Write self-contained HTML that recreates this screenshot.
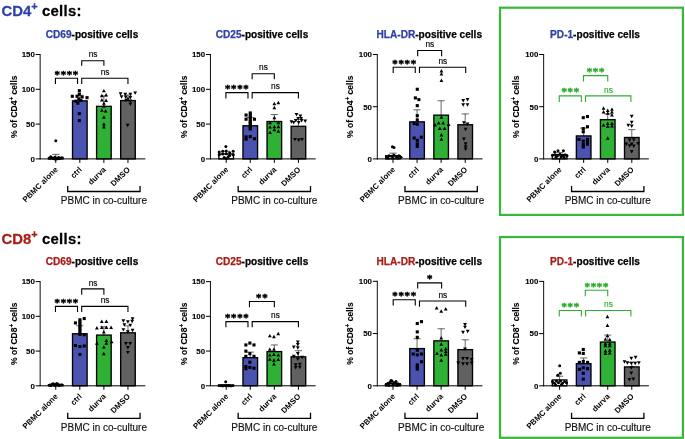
<!DOCTYPE html>
<html lang="en"><head><meta charset="utf-8"><title>T cell activation markers</title>
<style>html,body{margin:0;padding:0;background:#fff}body{width:685px;height:439px;overflow:hidden}svg{display:block}text{font-family:"Liberation Sans", sans-serif}text.b{stroke-width:0.25px}text.st{font-family:"DejaVu Sans","Liberation Sans",sans-serif}</style>
</head><body>
<svg width="685" height="439" viewBox="0 0 685 439" font-family='"Liberation Sans", sans-serif'>
<rect width="685" height="439" fill="#fff"/>
<rect x="500" y="7.7" width="182.9" height="207.2" fill="none" stroke="#38b838" stroke-width="2.2"/>
<rect x="500" y="237" width="182.9" height="200.8" fill="none" stroke="#38b838" stroke-width="2.2"/>
<text transform="translate(1.4 15.7) scale(0.96 1)" font-size="15.5" font-weight="bold" class="b"><tspan fill="#2f40a6" stroke="#2f40a6">CD4<tspan dy="-6.2" font-size="11.5">+</tspan></tspan><tspan dy="6.2" stroke="#000" letter-spacing="0.28"> cells:</tspan></text>
<text transform="translate(1.4 243.8) scale(0.96 1)" font-size="15.5" font-weight="bold" class="b"><tspan fill="#a81c18" stroke="#a81c18">CD8<tspan dy="-6.2" font-size="11.5">+</tspan></tspan><tspan dy="6.2" stroke="#000" letter-spacing="0.28"> cells:</tspan></text>
<text x="92" y="37.7" font-size="10.1" font-weight="bold" text-anchor="middle" class="b" stroke="#000"><tspan fill="#2f40a6" stroke="#2f40a6">CD69</tspan>-positive cells</text>
<rect x="48.45" y="157.51" width="14.6" height="1.39" fill="#fff" stroke="#000" stroke-width="1.35"/>
<line x1="55.75" y1="157.51" x2="55.75" y2="154.38" stroke="#000" stroke-width="0.6"/>
<line x1="52.15" y1="154.38" x2="59.35" y2="154.38" stroke="#000" stroke-width="0.6"/>
<rect x="72.52" y="100.85" width="14.6" height="58.05" fill="#4b53b0" stroke="#000" stroke-width="1.35"/>
<line x1="79.82" y1="100.85" x2="79.82" y2="95.29" stroke="#000" stroke-width="0.6"/>
<line x1="76.22" y1="95.29" x2="83.42" y2="95.29" stroke="#000" stroke-width="0.6"/>
<rect x="96.59" y="106.35" width="14.6" height="52.55" fill="#2eb135" stroke="#000" stroke-width="1.35"/>
<line x1="103.89" y1="106.35" x2="103.89" y2="95.91" stroke="#000" stroke-width="0.6"/>
<line x1="100.29" y1="95.91" x2="107.49" y2="95.91" stroke="#000" stroke-width="0.6"/>
<rect x="120.66" y="100.58" width="14.6" height="58.32" fill="#616161" stroke="#000" stroke-width="1.35"/>
<line x1="127.96" y1="100.58" x2="127.96" y2="95.01" stroke="#000" stroke-width="0.6"/>
<line x1="124.36" y1="95.01" x2="131.56" y2="95.01" stroke="#000" stroke-width="0.6"/>
<g fill="#000">
<circle cx="55.75" cy="140.8" r="1.5"/>
<circle cx="50.75" cy="156.81" r="1.5"/>
<circle cx="54.75" cy="157.16" r="1.5"/>
<circle cx="58.75" cy="157.51" r="1.5"/>
<circle cx="61.75" cy="157.86" r="1.5"/>
<circle cx="49.75" cy="158.2" r="1.5"/>
<circle cx="52.75" cy="158.2" r="1.5"/>
<circle cx="56.75" cy="158.34" r="1.5"/>
<circle cx="59.75" cy="158.55" r="1.5"/>
<circle cx="53.75" cy="158.55" r="1.5"/>
<circle cx="57.75" cy="158.69" r="1.5"/>
<circle cx="55.25" cy="158.9" r="1.5"/>
<circle cx="55.75" cy="158.9" r="1.5"/>
<rect x="77.77" y="89.14" width="3.1" height="3.1"/>
<rect x="77.77" y="92.62" width="3.1" height="3.1"/>
<rect x="70.77" y="94.71" width="3.1" height="3.1"/>
<rect x="75.47" y="94.71" width="3.1" height="3.1"/>
<rect x="80.57" y="95.41" width="3.1" height="3.1"/>
<rect x="85.47" y="96.1" width="3.1" height="3.1"/>
<rect x="77.27" y="97.49" width="3.1" height="3.1"/>
<rect x="79.27" y="98.89" width="3.1" height="3.1"/>
<rect x="74.27" y="99.58" width="3.1" height="3.1"/>
<rect x="76.27" y="101.67" width="3.1" height="3.1"/>
<rect x="77.77" y="112.11" width="3.1" height="3.1"/>
<rect x="77.77" y="119.07" width="3.1" height="3.1"/>
<path d="M101.99 92.34L105.79 92.34L103.89 88.88Z"/>
<path d="M104.19 96.52L107.99 96.52L106.09 93.05Z"/>
<path d="M99.99 97.21L103.79 97.21L101.89 93.75Z"/>
<path d="M99.99 101.39L103.79 101.39L101.89 97.93Z"/>
<path d="M104.19 102.09L107.99 102.09L106.09 98.62Z"/>
<path d="M101.99 104.87L105.79 104.87L103.89 101.41Z"/>
<path d="M99.99 111.83L103.79 111.83L101.89 108.37Z"/>
<path d="M103.69 112.53L107.49 112.53L105.59 109.06Z"/>
<path d="M101.99 107.65L105.79 107.65L103.89 104.19Z"/>
<path d="M101.99 118.79L105.79 118.79L103.89 115.33Z"/>
<path d="M101.99 125.75L105.79 125.75L103.89 122.28Z"/>
<path d="M101.99 128.53L105.79 128.53L103.89 125.07Z"/>
<path d="M133.26 91.41L137.06 91.41L135.16 94.87Z"/>
<path d="M118.66 92.17L122.46 92.17L120.56 95.64Z"/>
<path d="M123.36 92.73L127.16 92.73L125.26 96.2Z"/>
<path d="M128.46 92.73L132.26 92.73L130.36 96.2Z"/>
<path d="M119.66 95.31L123.46 95.31L121.56 98.77Z"/>
<path d="M123.76 95.58L127.56 95.58L125.66 99.05Z"/>
<path d="M128.46 96L132.26 96L130.36 99.47Z"/>
<path d="M124.26 98.79L128.06 98.79L126.16 102.25Z"/>
<path d="M128.46 99.48L132.26 99.48L130.36 102.95Z"/>
<path d="M126.06 97.39L129.86 97.39L127.96 100.86Z"/>
<path d="M128.46 102.61L132.26 102.61L130.36 106.08Z"/>
<path d="M125.76 123.84L129.56 123.84L127.66 127.31Z"/>
</g>
<line x1="40.15" y1="54" x2="40.15" y2="159.4" stroke="#000" stroke-width="0.95"/>
<line x1="39.65" y1="158.9" x2="145.35" y2="158.9" stroke="#000" stroke-width="1"/>
<line x1="35.65" y1="158.9" x2="40.15" y2="158.9" stroke="#000" stroke-width="1"/>
<text x="34.85" y="161.75" font-size="7.9" font-weight="bold" text-anchor="end" fill="#000" stroke="#000" stroke-width="0.12">0</text>
<line x1="35.65" y1="124.1" x2="40.15" y2="124.1" stroke="#000" stroke-width="1"/>
<text x="34.85" y="126.95" font-size="7.9" font-weight="bold" text-anchor="end" fill="#000" stroke="#000" stroke-width="0.12">50</text>
<line x1="35.65" y1="89.3" x2="40.15" y2="89.3" stroke="#000" stroke-width="1"/>
<text x="34.85" y="92.15" font-size="7.9" font-weight="bold" text-anchor="end" fill="#000" stroke="#000" stroke-width="0.12">100</text>
<line x1="35.65" y1="54.5" x2="40.15" y2="54.5" stroke="#000" stroke-width="1"/>
<text x="34.85" y="57.35" font-size="7.9" font-weight="bold" text-anchor="end" fill="#000" stroke="#000" stroke-width="0.12">150</text>
<line x1="55.75" y1="158.9" x2="55.75" y2="162.9" stroke="#000" stroke-width="1"/>
<line x1="79.82" y1="158.9" x2="79.82" y2="162.9" stroke="#000" stroke-width="1"/>
<line x1="103.89" y1="158.9" x2="103.89" y2="162.9" stroke="#000" stroke-width="1"/>
<line x1="127.96" y1="158.9" x2="127.96" y2="162.9" stroke="#000" stroke-width="1"/>
<text x="16.65" y="106.7" font-size="8.5" font-weight="bold" text-anchor="middle" stroke="#000" stroke-width="0.1" transform="rotate(-90 16.65 106.7)">% of CD4<tspan dy="-3" font-size="6.5">+</tspan><tspan dy="3"> cells</tspan></text>
<text x="58.35" y="170.1" font-size="7.9" font-weight="bold" text-anchor="end" fill="#000" transform="rotate(-45 58.35 170.1)">PBMC alone</text>
<text x="82.42" y="170.1" font-size="7.9" font-weight="bold" text-anchor="end" fill="#000" transform="rotate(-45 82.42 170.1)">ctrl</text>
<text x="106.49" y="170.1" font-size="7.9" font-weight="bold" text-anchor="end" fill="#000" transform="rotate(-45 106.49 170.1)">durva</text>
<text x="130.56" y="170.1" font-size="7.9" font-weight="bold" text-anchor="end" fill="#000" transform="rotate(-45 130.56 170.1)">DMSO</text>
<path d="M67.72 185.9V191.5H140.06V185.9" stroke="#000" stroke-width="1.3" fill="none"/>
<text x="103.89" y="204.45" font-size="10" font-weight="normal" text-anchor="middle" fill="#111" stroke="#111" stroke-width="0.15">PBMC in co-culture</text>
<path d="M55.45 83.9V78.2H77.52V83.9" stroke="#000" stroke-width="1.1" fill="none"/>
<text x="67.03" y="77.75" font-size="9.4" font-weight="bold" text-anchor="middle" fill="#000" class="st" stroke="#000" stroke-width="0.6" letter-spacing="1.2">****</text>
<path d="M81.72 65.7V60.7H103.89V65.7" stroke="#000" stroke-width="1.1" fill="none"/>
<text x="93.01" y="57.3" font-size="8.3" font-weight="normal" text-anchor="middle" fill="#000" stroke="#000" stroke-width="0.15">ns</text>
<path d="M81.72 83.9V78.2H127.96V83.9" stroke="#000" stroke-width="1.1" fill="none"/>
<text x="105.04" y="74.8" font-size="8.3" font-weight="normal" text-anchor="middle" fill="#000" stroke="#000" stroke-width="0.15">ns</text>
<text x="262" y="37.7" font-size="10.1" font-weight="bold" text-anchor="middle" class="b" stroke="#000"><tspan fill="#2f40a6" stroke="#2f40a6">CD25</tspan>-positive cells</text>
<rect x="218.9" y="154.03" width="14.6" height="4.87" fill="#fff" stroke="#000" stroke-width="1.35"/>
<line x1="226.2" y1="154.03" x2="226.2" y2="151.24" stroke="#000" stroke-width="0.6"/>
<line x1="222.6" y1="151.24" x2="229.8" y2="151.24" stroke="#000" stroke-width="0.6"/>
<rect x="242.97" y="125.77" width="14.6" height="33.13" fill="#4b53b0" stroke="#000" stroke-width="1.35"/>
<line x1="250.27" y1="125.77" x2="250.27" y2="117.42" stroke="#000" stroke-width="0.6"/>
<line x1="246.67" y1="117.42" x2="253.87" y2="117.42" stroke="#000" stroke-width="0.6"/>
<rect x="267.04" y="121.52" width="14.6" height="37.38" fill="#2eb135" stroke="#000" stroke-width="1.35"/>
<line x1="274.34" y1="121.52" x2="274.34" y2="114.56" stroke="#000" stroke-width="0.6"/>
<line x1="270.74" y1="114.56" x2="277.94" y2="114.56" stroke="#000" stroke-width="0.6"/>
<rect x="291.11" y="126.33" width="14.6" height="32.57" fill="#616161" stroke="#000" stroke-width="1.35"/>
<line x1="298.41" y1="126.33" x2="298.41" y2="119.37" stroke="#000" stroke-width="0.6"/>
<line x1="294.81" y1="119.37" x2="302.01" y2="119.37" stroke="#000" stroke-width="0.6"/>
<g fill="#000">
<circle cx="225.9" cy="146.44" r="1.5"/>
<circle cx="219.2" cy="151.94" r="1.5"/>
<circle cx="222.7" cy="151.24" r="1.5"/>
<circle cx="226.2" cy="150.9" r="1.5"/>
<circle cx="229.7" cy="152.64" r="1.5"/>
<circle cx="233.2" cy="151.24" r="1.5"/>
<circle cx="219.2" cy="154.72" r="1.5"/>
<circle cx="222.7" cy="154.03" r="1.5"/>
<circle cx="226.2" cy="153.68" r="1.5"/>
<circle cx="229.7" cy="155.42" r="1.5"/>
<circle cx="233.2" cy="154.72" r="1.5"/>
<circle cx="224.2" cy="157.51" r="1.5"/>
<circle cx="226.2" cy="158.55" r="1.5"/>
<circle cx="228.2" cy="156.81" r="1.5"/>
<rect x="248.72" y="111.41" width="3.1" height="3.1"/>
<rect x="244.52" y="113.5" width="3.1" height="3.1"/>
<rect x="248.72" y="115.59" width="3.1" height="3.1"/>
<rect x="244.52" y="117.68" width="3.1" height="3.1"/>
<rect x="252.92" y="117.68" width="3.1" height="3.1"/>
<rect x="248.72" y="119.77" width="3.1" height="3.1"/>
<rect x="248.72" y="122.55" width="3.1" height="3.1"/>
<rect x="248.72" y="126.73" width="3.1" height="3.1"/>
<rect x="248.72" y="135.08" width="3.1" height="3.1"/>
<rect x="244.52" y="135.36" width="3.1" height="3.1"/>
<rect x="252.92" y="137.17" width="3.1" height="3.1"/>
<rect x="244.52" y="137.58" width="3.1" height="3.1"/>
<rect x="248.72" y="113.5" width="3.1" height="3.1"/>
<rect x="248.72" y="117.68" width="3.1" height="3.1"/>
<rect x="248.72" y="121.16" width="3.1" height="3.1"/>
<rect x="248.72" y="124.64" width="3.1" height="3.1"/>
<rect x="248.72" y="127.42" width="3.1" height="3.1"/>
<path d="M276.44 104.17L280.24 104.17L278.34 100.71Z"/>
<path d="M272.44 105.15L276.24 105.15L274.34 101.68Z"/>
<path d="M272.44 109.25L276.24 109.25L274.34 105.79Z"/>
<path d="M272.44 119.21L276.24 119.21L274.34 115.74Z"/>
<path d="M268.14 124.22L271.94 124.22L270.04 120.75Z"/>
<path d="M276.44 124.22L280.24 124.22L278.34 120.75Z"/>
<path d="M272.44 128.33L276.24 128.33L274.34 124.86Z"/>
<path d="M276.44 128.33L280.24 128.33L278.34 124.86Z"/>
<path d="M268.14 128.6L271.94 128.6L270.04 125.14Z"/>
<path d="M272.44 131.25L276.24 131.25L274.34 127.78Z"/>
<path d="M276.44 132.71L280.24 132.71L278.34 129.25Z"/>
<path d="M268.14 133.89L271.94 133.89L270.04 130.43Z"/>
<path d="M294.61 112.98L298.41 112.98L296.51 116.45Z"/>
<path d="M298.51 114.45L302.31 114.45L300.41 117.91Z"/>
<path d="M296.31 116.88L300.11 116.88L298.21 120.35Z"/>
<path d="M299.31 116.88L303.11 116.88L301.21 120.35Z"/>
<path d="M293.91 119.11L297.71 119.11L295.81 122.57Z"/>
<path d="M299.71 119.11L303.51 119.11L301.61 122.57Z"/>
<path d="M289.51 120.29L293.31 120.29L291.41 123.76Z"/>
<path d="M291.71 120.92L295.51 120.92L293.61 124.38Z"/>
<path d="M296.81 120.92L300.61 120.92L298.71 124.38Z"/>
<path d="M303.31 119.6L307.11 119.6L305.21 123.06Z"/>
<path d="M293.11 137.9L296.91 137.9L295.01 141.37Z"/>
<path d="M296.81 138.46L300.61 138.46L298.71 141.92Z"/>
<path d="M300.11 137.9L303.91 137.9L302.01 141.37Z"/>
</g>
<line x1="210.45" y1="54" x2="210.45" y2="159.4" stroke="#000" stroke-width="0.95"/>
<line x1="209.95" y1="158.9" x2="315.65" y2="158.9" stroke="#000" stroke-width="1"/>
<line x1="205.95" y1="158.9" x2="210.45" y2="158.9" stroke="#000" stroke-width="1"/>
<text x="205.15" y="161.75" font-size="7.9" font-weight="bold" text-anchor="end" fill="#000" stroke="#000" stroke-width="0.12">0</text>
<line x1="205.95" y1="124.1" x2="210.45" y2="124.1" stroke="#000" stroke-width="1"/>
<text x="205.15" y="126.95" font-size="7.9" font-weight="bold" text-anchor="end" fill="#000" stroke="#000" stroke-width="0.12">50</text>
<line x1="205.95" y1="89.3" x2="210.45" y2="89.3" stroke="#000" stroke-width="1"/>
<text x="205.15" y="92.15" font-size="7.9" font-weight="bold" text-anchor="end" fill="#000" stroke="#000" stroke-width="0.12">100</text>
<line x1="205.95" y1="54.5" x2="210.45" y2="54.5" stroke="#000" stroke-width="1"/>
<text x="205.15" y="57.35" font-size="7.9" font-weight="bold" text-anchor="end" fill="#000" stroke="#000" stroke-width="0.12">150</text>
<line x1="226.2" y1="158.9" x2="226.2" y2="162.9" stroke="#000" stroke-width="1"/>
<line x1="250.27" y1="158.9" x2="250.27" y2="162.9" stroke="#000" stroke-width="1"/>
<line x1="274.34" y1="158.9" x2="274.34" y2="162.9" stroke="#000" stroke-width="1"/>
<line x1="298.41" y1="158.9" x2="298.41" y2="162.9" stroke="#000" stroke-width="1"/>
<text x="186.95" y="106.7" font-size="8.5" font-weight="bold" text-anchor="middle" stroke="#000" stroke-width="0.1" transform="rotate(-90 186.95 106.7)">% of CD4<tspan dy="-3" font-size="6.5">+</tspan><tspan dy="3"> cells</tspan></text>
<text x="228.8" y="170.1" font-size="7.9" font-weight="bold" text-anchor="end" fill="#000" transform="rotate(-45 228.8 170.1)">PBMC alone</text>
<text x="252.87" y="170.1" font-size="7.9" font-weight="bold" text-anchor="end" fill="#000" transform="rotate(-45 252.87 170.1)">ctrl</text>
<text x="276.94" y="170.1" font-size="7.9" font-weight="bold" text-anchor="end" fill="#000" transform="rotate(-45 276.94 170.1)">durva</text>
<text x="301.01" y="170.1" font-size="7.9" font-weight="bold" text-anchor="end" fill="#000" transform="rotate(-45 301.01 170.1)">DMSO</text>
<path d="M238.17 185.9V191.5H310.51V185.9" stroke="#000" stroke-width="1.3" fill="none"/>
<text x="274.34" y="204.45" font-size="10" font-weight="normal" text-anchor="middle" fill="#111" stroke="#111" stroke-width="0.15">PBMC in co-culture</text>
<path d="M225.9 98.4V92.6H247.97V98.4" stroke="#000" stroke-width="1.1" fill="none"/>
<text x="237.49" y="92.15" font-size="9.4" font-weight="bold" text-anchor="middle" fill="#000" class="st" stroke="#000" stroke-width="0.6" letter-spacing="1.2">****</text>
<path d="M252.17 79.3V73.8H274.34V79.3" stroke="#000" stroke-width="1.1" fill="none"/>
<text x="263.45" y="70.4" font-size="8.3" font-weight="normal" text-anchor="middle" fill="#000" stroke="#000" stroke-width="0.15">ns</text>
<path d="M252.17 98.4V92.6H298.41V98.4" stroke="#000" stroke-width="1.1" fill="none"/>
<text x="275.49" y="89.2" font-size="8.3" font-weight="normal" text-anchor="middle" fill="#000" stroke="#000" stroke-width="0.15">ns</text>
<text x="429.3" y="37.7" font-size="10.1" font-weight="bold" text-anchor="middle" class="b" stroke="#000"><tspan fill="#2f40a6" stroke="#2f40a6">HLA-DR</tspan>-positive cells</text>
<rect x="385.7" y="155.77" width="14.6" height="3.13" fill="#fff" stroke="#000" stroke-width="1.35"/>
<line x1="393" y1="155.77" x2="393" y2="153.16" stroke="#000" stroke-width="0.6"/>
<line x1="389.4" y1="153.16" x2="396.6" y2="153.16" stroke="#000" stroke-width="0.6"/>
<rect x="409.77" y="121.84" width="14.6" height="37.06" fill="#4b53b0" stroke="#000" stroke-width="1.35"/>
<line x1="417.07" y1="121.84" x2="417.07" y2="109.83" stroke="#000" stroke-width="0.6"/>
<line x1="413.47" y1="109.83" x2="420.67" y2="109.83" stroke="#000" stroke-width="0.6"/>
<rect x="433.84" y="115.16" width="14.6" height="43.74" fill="#2eb135" stroke="#000" stroke-width="1.35"/>
<line x1="441.14" y1="115.16" x2="441.14" y2="100.75" stroke="#000" stroke-width="0.6"/>
<line x1="437.54" y1="100.75" x2="444.74" y2="100.75" stroke="#000" stroke-width="0.6"/>
<rect x="457.91" y="124.76" width="14.6" height="34.14" fill="#616161" stroke="#000" stroke-width="1.35"/>
<line x1="465.21" y1="124.76" x2="465.21" y2="113.9" stroke="#000" stroke-width="0.6"/>
<line x1="461.61" y1="113.9" x2="468.81" y2="113.9" stroke="#000" stroke-width="0.6"/>
<g fill="#000">
<circle cx="392.4" cy="146.79" r="1.5"/>
<circle cx="394" cy="147.42" r="1.5"/>
<circle cx="386.5" cy="156.81" r="1.5"/>
<circle cx="389" cy="155.77" r="1.5"/>
<circle cx="391.5" cy="156.29" r="1.5"/>
<circle cx="394" cy="155.25" r="1.5"/>
<circle cx="396.5" cy="156.81" r="1.5"/>
<circle cx="399" cy="155.77" r="1.5"/>
<circle cx="401" cy="157.33" r="1.5"/>
<circle cx="388" cy="158.06" r="1.5"/>
<circle cx="393" cy="157.86" r="1.5"/>
<circle cx="398" cy="158.06" r="1.5"/>
<rect x="415.72" y="87.72" width="3.1" height="3.1"/>
<rect x="413.82" y="96.38" width="3.1" height="3.1"/>
<rect x="417.32" y="98.05" width="3.1" height="3.1"/>
<rect x="415.72" y="104.11" width="3.1" height="3.1"/>
<rect x="415.72" y="114.13" width="3.1" height="3.1"/>
<rect x="415.72" y="118.41" width="3.1" height="3.1"/>
<rect x="412.62" y="121.96" width="3.1" height="3.1"/>
<rect x="415.72" y="122.69" width="3.1" height="3.1"/>
<rect x="412.62" y="136.47" width="3.1" height="3.1"/>
<rect x="419.72" y="135.63" width="3.1" height="3.1"/>
<rect x="415.72" y="138.77" width="3.1" height="3.1"/>
<rect x="415.72" y="142.32" width="3.1" height="3.1"/>
<rect x="415.72" y="144.82" width="3.1" height="3.1"/>
<path d="M439.54 72.54L443.34 72.54L441.44 69.08Z"/>
<path d="M439.54 75.57L443.34 75.57L441.44 72.1Z"/>
<path d="M439.54 82.04L443.34 82.04L441.44 78.58Z"/>
<path d="M439.54 118.79L443.34 118.79L441.44 115.33Z"/>
<path d="M436.74 124.43L440.54 124.43L438.64 120.96Z"/>
<path d="M441.24 124.43L445.04 124.43L443.14 120.96Z"/>
<path d="M433.14 126.41L436.94 126.41L435.04 122.95Z"/>
<path d="M446.64 125.89L450.44 125.89L448.54 122.42Z"/>
<path d="M437.94 129.96L441.74 129.96L439.84 126.5Z"/>
<path d="M442.64 129.96L446.44 129.96L444.54 126.5Z"/>
<path d="M439.54 136.43L443.34 136.43L441.44 132.97Z"/>
<path d="M439.54 140.71L443.34 140.71L441.44 137.25Z"/>
<path d="M461.31 99.1L465.11 99.1L463.21 102.56Z"/>
<path d="M465.61 97.95L469.41 97.95L467.51 101.42Z"/>
<path d="M461.31 103.17L465.11 103.17L463.21 106.64Z"/>
<path d="M465.61 103.17L469.41 103.17L467.51 106.64Z"/>
<path d="M462.01 121.13L465.81 121.13L463.91 124.59Z"/>
<path d="M465.61 122.59L469.41 122.59L467.51 126.05Z"/>
<path d="M463.71 127.81L467.51 127.81L465.61 131.27Z"/>
<path d="M462.01 137.41L465.81 137.41L463.91 140.88Z"/>
<path d="M463.71 142.22L467.51 142.22L465.61 145.68Z"/>
<path d="M463.71 145.14L467.51 145.14L465.61 148.6Z"/>
<path d="M463.71 147.54L467.51 147.54L465.61 151.01Z"/>
</g>
<line x1="377.3" y1="54" x2="377.3" y2="159.4" stroke="#000" stroke-width="0.95"/>
<line x1="376.8" y1="158.9" x2="482.5" y2="158.9" stroke="#000" stroke-width="1"/>
<line x1="372.8" y1="158.9" x2="377.3" y2="158.9" stroke="#000" stroke-width="1"/>
<text x="372" y="161.75" font-size="7.9" font-weight="bold" text-anchor="end" fill="#000" stroke="#000" stroke-width="0.12">0</text>
<line x1="372.8" y1="106.7" x2="377.3" y2="106.7" stroke="#000" stroke-width="1"/>
<text x="372" y="109.55" font-size="7.9" font-weight="bold" text-anchor="end" fill="#000" stroke="#000" stroke-width="0.12">50</text>
<line x1="372.8" y1="54.5" x2="377.3" y2="54.5" stroke="#000" stroke-width="1"/>
<text x="372" y="57.35" font-size="7.9" font-weight="bold" text-anchor="end" fill="#000" stroke="#000" stroke-width="0.12">100</text>
<line x1="393" y1="158.9" x2="393" y2="162.9" stroke="#000" stroke-width="1"/>
<line x1="417.07" y1="158.9" x2="417.07" y2="162.9" stroke="#000" stroke-width="1"/>
<line x1="441.14" y1="158.9" x2="441.14" y2="162.9" stroke="#000" stroke-width="1"/>
<line x1="465.21" y1="158.9" x2="465.21" y2="162.9" stroke="#000" stroke-width="1"/>
<text x="353.1" y="106.7" font-size="8.5" font-weight="bold" text-anchor="middle" stroke="#000" stroke-width="0.1" transform="rotate(-90 353.1 106.7)">% of CD4<tspan dy="-3" font-size="6.5">+</tspan><tspan dy="3"> cells</tspan></text>
<text x="395.6" y="170.1" font-size="7.9" font-weight="bold" text-anchor="end" fill="#000" transform="rotate(-45 395.6 170.1)">PBMC alone</text>
<text x="419.67" y="170.1" font-size="7.9" font-weight="bold" text-anchor="end" fill="#000" transform="rotate(-45 419.67 170.1)">ctrl</text>
<text x="443.74" y="170.1" font-size="7.9" font-weight="bold" text-anchor="end" fill="#000" transform="rotate(-45 443.74 170.1)">durva</text>
<text x="467.81" y="170.1" font-size="7.9" font-weight="bold" text-anchor="end" fill="#000" transform="rotate(-45 467.81 170.1)">DMSO</text>
<path d="M404.97 185.9V191.5H477.31V185.9" stroke="#000" stroke-width="1.3" fill="none"/>
<text x="441.14" y="204.45" font-size="10" font-weight="normal" text-anchor="middle" fill="#111" stroke="#111" stroke-width="0.15">PBMC in co-culture</text>
<path d="M393.2 73V67.2H415.27V73" stroke="#000" stroke-width="1.1" fill="none"/>
<text x="404.79" y="66.75" font-size="9.4" font-weight="bold" text-anchor="middle" fill="#000" class="st" stroke="#000" stroke-width="0.6" letter-spacing="1.2">****</text>
<path d="M417.67 56.3V50.5H441.64V56.3" stroke="#000" stroke-width="1.1" fill="none"/>
<text x="429.85" y="47.1" font-size="8.3" font-weight="normal" text-anchor="middle" fill="#000" stroke="#000" stroke-width="0.15">ns</text>
<path d="M419.47 73V67.2H465.71V73" stroke="#000" stroke-width="1.1" fill="none"/>
<text x="442.79" y="63.8" font-size="8.3" font-weight="normal" text-anchor="middle" fill="#000" stroke="#000" stroke-width="0.15">ns</text>
<text x="595" y="37.8" font-size="10.1" font-weight="bold" text-anchor="middle" class="b" stroke="#000"><tspan fill="#2f40a6" stroke="#2f40a6">PD-1</tspan>-positive cells</text>
<rect x="552.3" y="154.72" width="14.6" height="4.18" fill="#fff" stroke="#000" stroke-width="1.35"/>
<line x1="559.6" y1="154.72" x2="559.6" y2="152.64" stroke="#000" stroke-width="0.6"/>
<line x1="556" y1="152.64" x2="563.2" y2="152.64" stroke="#000" stroke-width="0.6"/>
<rect x="576.37" y="135.93" width="14.6" height="22.97" fill="#4b53b0" stroke="#000" stroke-width="1.35"/>
<line x1="583.67" y1="135.93" x2="583.67" y2="128.1" stroke="#000" stroke-width="0.6"/>
<line x1="580.07" y1="128.1" x2="587.27" y2="128.1" stroke="#000" stroke-width="0.6"/>
<rect x="600.44" y="119.65" width="14.6" height="39.25" fill="#2eb135" stroke="#000" stroke-width="1.35"/>
<line x1="607.74" y1="119.65" x2="607.74" y2="113.9" stroke="#000" stroke-width="0.6"/>
<line x1="604.14" y1="113.9" x2="611.34" y2="113.9" stroke="#000" stroke-width="0.6"/>
<rect x="624.51" y="137.5" width="14.6" height="21.4" fill="#616161" stroke="#000" stroke-width="1.35"/>
<line x1="631.81" y1="137.5" x2="631.81" y2="129.67" stroke="#000" stroke-width="0.6"/>
<line x1="628.21" y1="129.67" x2="635.41" y2="129.67" stroke="#000" stroke-width="0.6"/>
<g fill="#000">
<circle cx="558" cy="150.76" r="1.5"/>
<circle cx="563.4" cy="150.76" r="1.5"/>
<circle cx="554.6" cy="152.11" r="1.5"/>
<circle cx="552.5" cy="155.25" r="1.5"/>
<circle cx="555" cy="154.72" r="1.5"/>
<circle cx="557.5" cy="155.77" r="1.5"/>
<circle cx="560" cy="154.2" r="1.5"/>
<circle cx="562.5" cy="155.25" r="1.5"/>
<circle cx="565" cy="154.72" r="1.5"/>
<circle cx="567" cy="155.77" r="1.5"/>
<circle cx="556" cy="157.33" r="1.5"/>
<circle cx="561" cy="156.81" r="1.5"/>
<circle cx="564" cy="157.33" r="1.5"/>
<rect x="581.72" y="116.11" width="3.1" height="3.1"/>
<rect x="585.92" y="114.96" width="3.1" height="3.1"/>
<rect x="581.72" y="127.07" width="3.1" height="3.1"/>
<rect x="581.72" y="130.21" width="3.1" height="3.1"/>
<rect x="585.92" y="125.19" width="3.1" height="3.1"/>
<rect x="577.42" y="137.83" width="3.1" height="3.1"/>
<rect x="581.72" y="139.6" width="3.1" height="3.1"/>
<rect x="585.92" y="137.83" width="3.1" height="3.1"/>
<rect x="585.92" y="140.33" width="3.1" height="3.1"/>
<rect x="581.72" y="142.94" width="3.1" height="3.1"/>
<rect x="581.72" y="145.45" width="3.1" height="3.1"/>
<rect x="585.92" y="142.63" width="3.1" height="3.1"/>
<path d="M601.64 109.71L605.44 109.71L603.54 106.24Z"/>
<path d="M605.84 111.9L609.64 111.9L607.74 108.43Z"/>
<path d="M610.04 110.86L613.84 110.86L611.94 107.39Z"/>
<path d="M601.64 113.57L605.44 113.57L603.54 110.11Z"/>
<path d="M605.84 114.72L609.64 114.72L607.74 111.25Z"/>
<path d="M610.04 113.57L613.84 113.57L611.94 110.11Z"/>
<path d="M610.04 116.49L613.84 116.49L611.94 113.03Z"/>
<path d="M601.64 126.62L605.44 126.62L603.54 123.16Z"/>
<path d="M605.84 124.95L609.64 124.95L607.74 121.48Z"/>
<path d="M610.04 124.95L613.84 124.95L611.94 121.48Z"/>
<path d="M605.84 127.87L609.64 127.87L607.74 124.41Z"/>
<path d="M610.04 127.46L613.84 127.46L611.94 123.99Z"/>
<path d="M605.84 139.67L609.64 139.67L607.74 136.21Z"/>
<path d="M629.81 114.86L633.61 114.86L631.71 118.33Z"/>
<path d="M629.81 120.71L633.61 120.71L631.71 124.18Z"/>
<path d="M626.41 123.84L630.21 123.84L628.31 127.31Z"/>
<path d="M629.81 124.57L633.61 124.57L631.71 128.04Z"/>
<path d="M627.71 138.56L631.51 138.56L629.61 142.03Z"/>
<path d="M631.91 138.25L635.71 138.25L633.81 141.71Z"/>
<path d="M624.41 142.53L628.21 142.53L626.31 145.99Z"/>
<path d="M629.81 142.53L633.61 142.53L631.71 145.99Z"/>
<path d="M636.21 142.01L640.01 142.01L638.11 145.47Z"/>
<path d="M631.91 144.51L635.71 144.51L633.81 147.98Z"/>
<path d="M627.71 144.2L631.51 144.2L629.61 147.66Z"/>
<path d="M629.81 149.94L633.61 149.94L631.71 153.41Z"/>
</g>
<line x1="543.65" y1="54" x2="543.65" y2="159.4" stroke="#000" stroke-width="0.95"/>
<line x1="543.15" y1="158.9" x2="648.85" y2="158.9" stroke="#000" stroke-width="1"/>
<line x1="539.15" y1="158.9" x2="543.65" y2="158.9" stroke="#000" stroke-width="1"/>
<text x="538.35" y="161.75" font-size="7.9" font-weight="bold" text-anchor="end" fill="#000" stroke="#000" stroke-width="0.12">0</text>
<line x1="539.15" y1="106.7" x2="543.65" y2="106.7" stroke="#000" stroke-width="1"/>
<text x="538.35" y="109.55" font-size="7.9" font-weight="bold" text-anchor="end" fill="#000" stroke="#000" stroke-width="0.12">50</text>
<line x1="539.15" y1="54.5" x2="543.65" y2="54.5" stroke="#000" stroke-width="1"/>
<text x="538.35" y="57.35" font-size="7.9" font-weight="bold" text-anchor="end" fill="#000" stroke="#000" stroke-width="0.12">100</text>
<line x1="559.6" y1="158.9" x2="559.6" y2="162.9" stroke="#000" stroke-width="1"/>
<line x1="583.67" y1="158.9" x2="583.67" y2="162.9" stroke="#000" stroke-width="1"/>
<line x1="607.74" y1="158.9" x2="607.74" y2="162.9" stroke="#000" stroke-width="1"/>
<line x1="631.81" y1="158.9" x2="631.81" y2="162.9" stroke="#000" stroke-width="1"/>
<text x="519.45" y="106.7" font-size="8.5" font-weight="bold" text-anchor="middle" stroke="#000" stroke-width="0.1" transform="rotate(-90 519.45 106.7)">% of CD4<tspan dy="-3" font-size="6.5">+</tspan><tspan dy="3"> cells</tspan></text>
<text x="562.2" y="170.1" font-size="7.9" font-weight="bold" text-anchor="end" fill="#000" transform="rotate(-45 562.2 170.1)">PBMC alone</text>
<text x="586.27" y="170.1" font-size="7.9" font-weight="bold" text-anchor="end" fill="#000" transform="rotate(-45 586.27 170.1)">ctrl</text>
<text x="610.34" y="170.1" font-size="7.9" font-weight="bold" text-anchor="end" fill="#000" transform="rotate(-45 610.34 170.1)">durva</text>
<text x="634.41" y="170.1" font-size="7.9" font-weight="bold" text-anchor="end" fill="#000" transform="rotate(-45 634.41 170.1)">DMSO</text>
<path d="M571.57 185.9V191.5H643.91V185.9" stroke="#000" stroke-width="1.3" fill="none"/>
<text x="607.74" y="204.45" font-size="10" font-weight="normal" text-anchor="middle" fill="#111" stroke="#111" stroke-width="0.15">PBMC in co-culture</text>
<path d="M559.3 102.1V95.9H581.37V102.1" stroke="#2fae2f" stroke-width="1.1" fill="none"/>
<text x="570.88" y="95.45" font-size="9.4" font-weight="bold" text-anchor="middle" fill="#2fae2f" class="st" stroke="#2fae2f" stroke-width="0.6" letter-spacing="1.2">***</text>
<path d="M583.47 81.6V75.6H607.74V81.6" stroke="#2fae2f" stroke-width="1.1" fill="none"/>
<text x="596.15" y="75.15" font-size="9.4" font-weight="bold" text-anchor="middle" fill="#2fae2f" class="st" stroke="#2fae2f" stroke-width="0.6" letter-spacing="1.2">***</text>
<path d="M585.57 102.1V95.9H630.91V102.1" stroke="#2fae2f" stroke-width="1.1" fill="none"/>
<text x="608.44" y="92.5" font-size="8.3" font-weight="normal" text-anchor="middle" fill="#2fae2f" stroke="#2fae2f" stroke-width="0.15">ns</text>
<text x="92" y="264.7" font-size="10.1" font-weight="bold" text-anchor="middle" class="b" stroke="#000"><tspan fill="#a81c18" stroke="#a81c18">CD69</tspan>-positive cells</text>
<rect x="48.45" y="384.76" width="14.6" height="1.04" fill="#fff" stroke="#000" stroke-width="1.35"/>
<line x1="55.75" y1="384.76" x2="55.75" y2="383.92" stroke="#000" stroke-width="0.6"/>
<line x1="52.15" y1="383.92" x2="59.35" y2="383.92" stroke="#000" stroke-width="0.6"/>
<rect x="72.52" y="333.77" width="14.6" height="52.03" fill="#4b53b0" stroke="#000" stroke-width="1.35"/>
<line x1="79.82" y1="333.77" x2="79.82" y2="325.78" stroke="#000" stroke-width="0.6"/>
<line x1="76.22" y1="325.78" x2="83.42" y2="325.78" stroke="#000" stroke-width="0.6"/>
<rect x="96.59" y="335.09" width="14.6" height="50.71" fill="#2eb135" stroke="#000" stroke-width="1.35"/>
<line x1="103.89" y1="335.09" x2="103.89" y2="326.75" stroke="#000" stroke-width="0.6"/>
<line x1="100.29" y1="326.75" x2="107.49" y2="326.75" stroke="#000" stroke-width="0.6"/>
<rect x="120.66" y="332.8" width="14.6" height="53" fill="#616161" stroke="#000" stroke-width="1.35"/>
<line x1="127.96" y1="332.8" x2="127.96" y2="325.85" stroke="#000" stroke-width="0.6"/>
<line x1="124.36" y1="325.85" x2="131.56" y2="325.85" stroke="#000" stroke-width="0.6"/>
<g fill="#000">
<circle cx="49.75" cy="385.11" r="1.5"/>
<circle cx="51.75" cy="384.41" r="1.5"/>
<circle cx="53.75" cy="384.06" r="1.5"/>
<circle cx="55.75" cy="384.76" r="1.5"/>
<circle cx="57.75" cy="384.06" r="1.5"/>
<circle cx="59.75" cy="385.11" r="1.5"/>
<circle cx="61.75" cy="384.76" r="1.5"/>
<circle cx="50.75" cy="385.45" r="1.5"/>
<circle cx="54.75" cy="385.24" r="1.5"/>
<circle cx="58.75" cy="385.45" r="1.5"/>
<circle cx="52.75" cy="383.72" r="1.5"/>
<circle cx="56.75" cy="383.58" r="1.5"/>
<rect x="82.67" y="317.01" width="3.1" height="3.1"/>
<rect x="73.87" y="321.38" width="3.1" height="3.1"/>
<rect x="78.37" y="318.26" width="3.1" height="3.1"/>
<rect x="78.37" y="320.34" width="3.1" height="3.1"/>
<rect x="78.37" y="322.42" width="3.1" height="3.1"/>
<rect x="78.37" y="324.51" width="3.1" height="3.1"/>
<rect x="78.37" y="326.59" width="3.1" height="3.1"/>
<rect x="78.37" y="328.68" width="3.1" height="3.1"/>
<rect x="78.37" y="330.76" width="3.1" height="3.1"/>
<rect x="78.37" y="332.84" width="3.1" height="3.1"/>
<rect x="82.67" y="333.19" width="3.1" height="3.1"/>
<rect x="73.87" y="344.03" width="3.1" height="3.1"/>
<rect x="78.37" y="345" width="3.1" height="3.1"/>
<rect x="82.67" y="344.45" width="3.1" height="3.1"/>
<rect x="78.37" y="352.92" width="3.1" height="3.1"/>
<path d="M99.89 322.98L103.69 322.98L101.79 319.52Z"/>
<path d="M104.49 322.98L108.29 322.98L106.39 319.52Z"/>
<path d="M94.99 329.51L98.79 329.51L96.89 326.05Z"/>
<path d="M99.89 328.89L103.69 328.89L101.79 325.42Z"/>
<path d="M104.49 328.89L108.29 328.89L106.39 325.42Z"/>
<path d="M109.19 328.89L112.99 328.89L111.09 325.42Z"/>
<path d="M101.89 333.4L105.69 333.4L103.79 329.94Z"/>
<path d="M104.49 341.88L108.29 341.88L106.39 338.41Z"/>
<path d="M94.99 344.66L98.79 344.66L96.89 341.19Z"/>
<path d="M104.49 344.66L108.29 344.66L106.39 341.19Z"/>
<path d="M109.69 343.27L113.49 343.27L111.59 339.8Z"/>
<path d="M101.89 348.62L105.69 348.62L103.79 345.15Z"/>
<path d="M101.89 355.15L105.69 355.15L103.79 351.68Z"/>
<path d="M130.66 317.32L134.46 317.32L132.56 320.79Z"/>
<path d="M121.46 319.27L125.26 319.27L123.36 322.73Z"/>
<path d="M125.96 320.31L129.76 320.31L127.86 323.78Z"/>
<path d="M130.26 319.68L134.06 319.68L132.16 323.15Z"/>
<path d="M122.46 323.23L126.26 323.23L124.36 326.69Z"/>
<path d="M128.36 323.64L132.16 323.64L130.26 327.11Z"/>
<path d="M121.46 328.16L125.26 328.16L123.36 331.62Z"/>
<path d="M130.66 328.79L134.46 328.79L132.56 332.25Z"/>
<path d="M125.96 330.17L129.76 330.17L127.86 333.64Z"/>
<path d="M124.06 341.98L127.86 341.98L125.96 345.45Z"/>
<path d="M128.36 341.98L132.16 341.98L130.26 345.45Z"/>
<path d="M125.96 345.94L129.76 345.94L127.86 349.41Z"/>
<path d="M125.96 350.88L129.76 350.88L127.86 354.34Z"/>
</g>
<line x1="40.15" y1="281.1" x2="40.15" y2="386.3" stroke="#000" stroke-width="0.95"/>
<line x1="39.65" y1="385.8" x2="145.35" y2="385.8" stroke="#000" stroke-width="1"/>
<line x1="35.65" y1="385.8" x2="40.15" y2="385.8" stroke="#000" stroke-width="1"/>
<text x="34.85" y="388.65" font-size="7.9" font-weight="bold" text-anchor="end" fill="#000" stroke="#000" stroke-width="0.12">0</text>
<line x1="35.65" y1="351.07" x2="40.15" y2="351.07" stroke="#000" stroke-width="1"/>
<text x="34.85" y="353.92" font-size="7.9" font-weight="bold" text-anchor="end" fill="#000" stroke="#000" stroke-width="0.12">50</text>
<line x1="35.65" y1="316.33" x2="40.15" y2="316.33" stroke="#000" stroke-width="1"/>
<text x="34.85" y="319.18" font-size="7.9" font-weight="bold" text-anchor="end" fill="#000" stroke="#000" stroke-width="0.12">100</text>
<line x1="35.65" y1="281.6" x2="40.15" y2="281.6" stroke="#000" stroke-width="1"/>
<text x="34.85" y="284.45" font-size="7.9" font-weight="bold" text-anchor="end" fill="#000" stroke="#000" stroke-width="0.12">150</text>
<line x1="55.75" y1="385.8" x2="55.75" y2="389.8" stroke="#000" stroke-width="1"/>
<line x1="79.82" y1="385.8" x2="79.82" y2="389.8" stroke="#000" stroke-width="1"/>
<line x1="103.89" y1="385.8" x2="103.89" y2="389.8" stroke="#000" stroke-width="1"/>
<line x1="127.96" y1="385.8" x2="127.96" y2="389.8" stroke="#000" stroke-width="1"/>
<text x="16.65" y="333.7" font-size="8.5" font-weight="bold" text-anchor="middle" stroke="#000" stroke-width="0.1" transform="rotate(-90 16.65 333.7)">% of CD8<tspan dy="-3" font-size="6.5">+</tspan><tspan dy="3"> cells</tspan></text>
<text x="58.35" y="397" font-size="7.9" font-weight="bold" text-anchor="end" fill="#000" transform="rotate(-45 58.35 397)">PBMC alone</text>
<text x="82.42" y="397" font-size="7.9" font-weight="bold" text-anchor="end" fill="#000" transform="rotate(-45 82.42 397)">ctrl</text>
<text x="106.49" y="397" font-size="7.9" font-weight="bold" text-anchor="end" fill="#000" transform="rotate(-45 106.49 397)">durva</text>
<text x="130.56" y="397" font-size="7.9" font-weight="bold" text-anchor="end" fill="#000" transform="rotate(-45 130.56 397)">DMSO</text>
<path d="M67.72 412.8V418.4H140.06V412.8" stroke="#000" stroke-width="1.3" fill="none"/>
<text x="103.89" y="431.35" font-size="10" font-weight="normal" text-anchor="middle" fill="#111" stroke="#111" stroke-width="0.15">PBMC in co-culture</text>
<path d="M55.45 312V306.4H77.52V312" stroke="#000" stroke-width="1.1" fill="none"/>
<text x="67.03" y="305.95" font-size="9.4" font-weight="bold" text-anchor="middle" fill="#000" class="st" stroke="#000" stroke-width="0.6" letter-spacing="1.2">****</text>
<path d="M81.72 294.8V288.9H103.89V294.8" stroke="#000" stroke-width="1.1" fill="none"/>
<text x="93.01" y="285.5" font-size="8.3" font-weight="normal" text-anchor="middle" fill="#000" stroke="#000" stroke-width="0.15">ns</text>
<path d="M81.72 312V306.4H127.96V312" stroke="#000" stroke-width="1.1" fill="none"/>
<text x="105.04" y="303" font-size="8.3" font-weight="normal" text-anchor="middle" fill="#000" stroke="#000" stroke-width="0.15">ns</text>
<text x="262" y="264.7" font-size="10.1" font-weight="bold" text-anchor="middle" class="b" stroke="#000"><tspan fill="#a81c18" stroke="#a81c18">CD25</tspan>-positive cells</text>
<rect x="218.9" y="385.38" width="14.6" height="0.42" fill="#fff" stroke="#000" stroke-width="1.35"/>
<line x1="226.2" y1="385.38" x2="226.2" y2="384.55" stroke="#000" stroke-width="0.6"/>
<line x1="222.6" y1="384.55" x2="229.8" y2="384.55" stroke="#000" stroke-width="0.6"/>
<rect x="242.97" y="357.67" width="14.6" height="28.13" fill="#4b53b0" stroke="#000" stroke-width="1.35"/>
<line x1="250.27" y1="357.67" x2="250.27" y2="352.11" stroke="#000" stroke-width="0.6"/>
<line x1="246.67" y1="352.11" x2="253.87" y2="352.11" stroke="#000" stroke-width="0.6"/>
<rect x="267.04" y="351.62" width="14.6" height="34.18" fill="#2eb135" stroke="#000" stroke-width="1.35"/>
<line x1="274.34" y1="351.62" x2="274.34" y2="344.95" stroke="#000" stroke-width="0.6"/>
<line x1="270.74" y1="344.95" x2="277.94" y2="344.95" stroke="#000" stroke-width="0.6"/>
<rect x="291.11" y="356.83" width="14.6" height="28.97" fill="#616161" stroke="#000" stroke-width="1.35"/>
<line x1="298.41" y1="356.83" x2="298.41" y2="350.72" stroke="#000" stroke-width="0.6"/>
<line x1="294.81" y1="350.72" x2="302.01" y2="350.72" stroke="#000" stroke-width="0.6"/>
<g fill="#000">
<circle cx="225.7" cy="381.77" r="1.5"/>
<circle cx="219" cy="385.59" r="1.5"/>
<circle cx="221" cy="385.38" r="1.5"/>
<circle cx="223" cy="385.66" r="1.5"/>
<circle cx="225" cy="385.45" r="1.5"/>
<circle cx="227" cy="385.59" r="1.5"/>
<circle cx="229" cy="385.38" r="1.5"/>
<circle cx="231" cy="385.66" r="1.5"/>
<circle cx="233" cy="385.52" r="1.5"/>
<circle cx="222" cy="385.8" r="1.5"/>
<circle cx="228" cy="385.8" r="1.5"/>
<circle cx="230" cy="385.8" r="1.5"/>
<rect x="248.32" y="341.53" width="3.1" height="3.1"/>
<rect x="244.32" y="343.4" width="3.1" height="3.1"/>
<rect x="252.42" y="343.4" width="3.1" height="3.1"/>
<rect x="244.32" y="349.59" width="3.1" height="3.1"/>
<rect x="248.32" y="352.09" width="3.1" height="3.1"/>
<rect x="244.32" y="354.8" width="3.1" height="3.1"/>
<rect x="252.42" y="354.8" width="3.1" height="3.1"/>
<rect x="248.32" y="360.63" width="3.1" height="3.1"/>
<rect x="244.32" y="365.08" width="3.1" height="3.1"/>
<rect x="244.32" y="367.16" width="3.1" height="3.1"/>
<rect x="248.32" y="365.84" width="3.1" height="3.1"/>
<rect x="252.42" y="366.67" width="3.1" height="3.1"/>
<path d="M276.34 335.28L280.14 335.28L278.24 331.82Z"/>
<path d="M267.94 337.36L271.74 337.36L269.84 333.9Z"/>
<path d="M272.04 338.2L275.84 338.2L273.94 334.73Z"/>
<path d="M267.94 350.84L271.74 350.84L269.84 347.38Z"/>
<path d="M272.04 350.84L275.84 350.84L273.94 347.38Z"/>
<path d="M267.94 356.61L271.74 356.61L269.84 353.14Z"/>
<path d="M272.04 356.05L275.84 356.05L273.94 352.59Z"/>
<path d="M276.34 356.61L280.14 356.61L278.24 353.14Z"/>
<path d="M267.94 360.64L271.74 360.64L269.84 357.17Z"/>
<path d="M272.04 361.75L275.84 361.75L273.94 358.28Z"/>
<path d="M276.34 360.91L280.14 360.91L278.24 357.45Z"/>
<path d="M272.04 365.57L275.84 365.57L273.94 362.1Z"/>
<path d="M295.91 340.52L299.71 340.52L297.81 343.99Z"/>
<path d="M295.91 343.03L299.71 343.03L297.81 346.49Z"/>
<path d="M291.91 345.46L295.71 345.46L293.81 348.92Z"/>
<path d="M295.91 346.22L299.71 346.22L297.81 349.69Z"/>
<path d="M295.91 351.99L299.71 351.99L297.81 355.45Z"/>
<path d="M291.91 354.7L295.71 354.7L293.81 358.16Z"/>
<path d="M300.31 355.67L304.11 355.67L302.21 359.13Z"/>
<path d="M295.91 357.61L299.71 357.61L297.81 361.08Z"/>
<path d="M293.81 363.31L297.61 363.31L295.71 366.78Z"/>
<path d="M297.91 362.82L301.71 362.82L299.81 366.29Z"/>
<path d="M293.81 366.09L297.61 366.09L295.71 369.55Z"/>
<path d="M297.91 365.74L301.71 365.74L299.81 369.21Z"/>
</g>
<line x1="210.45" y1="281.1" x2="210.45" y2="386.3" stroke="#000" stroke-width="0.95"/>
<line x1="209.95" y1="385.8" x2="315.65" y2="385.8" stroke="#000" stroke-width="1"/>
<line x1="205.95" y1="385.8" x2="210.45" y2="385.8" stroke="#000" stroke-width="1"/>
<text x="205.15" y="388.65" font-size="7.9" font-weight="bold" text-anchor="end" fill="#000" stroke="#000" stroke-width="0.12">0</text>
<line x1="205.95" y1="351.07" x2="210.45" y2="351.07" stroke="#000" stroke-width="1"/>
<text x="205.15" y="353.92" font-size="7.9" font-weight="bold" text-anchor="end" fill="#000" stroke="#000" stroke-width="0.12">50</text>
<line x1="205.95" y1="316.33" x2="210.45" y2="316.33" stroke="#000" stroke-width="1"/>
<text x="205.15" y="319.18" font-size="7.9" font-weight="bold" text-anchor="end" fill="#000" stroke="#000" stroke-width="0.12">100</text>
<line x1="205.95" y1="281.6" x2="210.45" y2="281.6" stroke="#000" stroke-width="1"/>
<text x="205.15" y="284.45" font-size="7.9" font-weight="bold" text-anchor="end" fill="#000" stroke="#000" stroke-width="0.12">150</text>
<line x1="226.2" y1="385.8" x2="226.2" y2="389.8" stroke="#000" stroke-width="1"/>
<line x1="250.27" y1="385.8" x2="250.27" y2="389.8" stroke="#000" stroke-width="1"/>
<line x1="274.34" y1="385.8" x2="274.34" y2="389.8" stroke="#000" stroke-width="1"/>
<line x1="298.41" y1="385.8" x2="298.41" y2="389.8" stroke="#000" stroke-width="1"/>
<text x="186.95" y="333.7" font-size="8.5" font-weight="bold" text-anchor="middle" stroke="#000" stroke-width="0.1" transform="rotate(-90 186.95 333.7)">% of CD8<tspan dy="-3" font-size="6.5">+</tspan><tspan dy="3"> cells</tspan></text>
<text x="228.8" y="397" font-size="7.9" font-weight="bold" text-anchor="end" fill="#000" transform="rotate(-45 228.8 397)">PBMC alone</text>
<text x="252.87" y="397" font-size="7.9" font-weight="bold" text-anchor="end" fill="#000" transform="rotate(-45 252.87 397)">ctrl</text>
<text x="276.94" y="397" font-size="7.9" font-weight="bold" text-anchor="end" fill="#000" transform="rotate(-45 276.94 397)">durva</text>
<text x="301.01" y="397" font-size="7.9" font-weight="bold" text-anchor="end" fill="#000" transform="rotate(-45 301.01 397)">DMSO</text>
<path d="M238.17 412.8V418.4H310.51V412.8" stroke="#000" stroke-width="1.3" fill="none"/>
<text x="274.34" y="431.35" font-size="10" font-weight="normal" text-anchor="middle" fill="#111" stroke="#111" stroke-width="0.15">PBMC in co-culture</text>
<path d="M225.9 327.3V321.6H247.97V327.3" stroke="#000" stroke-width="1.1" fill="none"/>
<text x="237.49" y="321.15" font-size="9.4" font-weight="bold" text-anchor="middle" fill="#000" class="st" stroke="#000" stroke-width="0.6" letter-spacing="1.2">****</text>
<path d="M249.47 307.3V301.5H274.34V307.3" stroke="#000" stroke-width="1.1" fill="none"/>
<text x="262.45" y="301.05" font-size="9.4" font-weight="bold" text-anchor="middle" fill="#000" class="st" stroke="#000" stroke-width="0.6" letter-spacing="1.2">**</text>
<path d="M252.17 327.3V321.6H298.41V327.3" stroke="#000" stroke-width="1.1" fill="none"/>
<text x="275.49" y="318.2" font-size="8.3" font-weight="normal" text-anchor="middle" fill="#000" stroke="#000" stroke-width="0.15">ns</text>
<text x="429.3" y="265" font-size="10.1" font-weight="bold" text-anchor="middle" class="b" stroke="#000"><tspan fill="#a81c18" stroke="#a81c18">HLA-DR</tspan>-positive cells</text>
<rect x="385.7" y="383.71" width="14.6" height="2.09" fill="#fff" stroke="#000" stroke-width="1.35"/>
<line x1="393" y1="383.71" x2="393" y2="382.14" stroke="#000" stroke-width="0.6"/>
<line x1="389.4" y1="382.14" x2="396.6" y2="382.14" stroke="#000" stroke-width="0.6"/>
<rect x="409.77" y="348.6" width="14.6" height="37.2" fill="#4b53b0" stroke="#000" stroke-width="1.35"/>
<line x1="417.07" y1="348.6" x2="417.07" y2="338.78" stroke="#000" stroke-width="0.6"/>
<line x1="413.47" y1="338.78" x2="420.67" y2="338.78" stroke="#000" stroke-width="0.6"/>
<rect x="433.84" y="340.87" width="14.6" height="44.94" fill="#2eb135" stroke="#000" stroke-width="1.35"/>
<line x1="441.14" y1="340.87" x2="441.14" y2="328.74" stroke="#000" stroke-width="0.6"/>
<line x1="437.54" y1="328.74" x2="444.74" y2="328.74" stroke="#000" stroke-width="0.6"/>
<rect x="457.91" y="349.64" width="14.6" height="36.16" fill="#616161" stroke="#000" stroke-width="1.35"/>
<line x1="465.21" y1="349.64" x2="465.21" y2="339.82" stroke="#000" stroke-width="0.6"/>
<line x1="461.61" y1="339.82" x2="468.81" y2="339.82" stroke="#000" stroke-width="0.6"/>
<g fill="#000">
<circle cx="386" cy="384.75" r="1.5"/>
<circle cx="388" cy="383.19" r="1.5"/>
<circle cx="390" cy="382.14" r="1.5"/>
<circle cx="392" cy="381.1" r="1.5"/>
<circle cx="394" cy="382.67" r="1.5"/>
<circle cx="396" cy="381.62" r="1.5"/>
<circle cx="398" cy="383.71" r="1.5"/>
<circle cx="400" cy="384.75" r="1.5"/>
<circle cx="389" cy="385.28" r="1.5"/>
<circle cx="393" cy="384.23" r="1.5"/>
<circle cx="397" cy="385.28" r="1.5"/>
<circle cx="391" cy="380.57" r="1.5"/>
<circle cx="395" cy="383.19" r="1.5"/>
<rect x="419.92" y="320.09" width="3.1" height="3.1"/>
<rect x="415.72" y="321.97" width="3.1" height="3.1"/>
<rect x="415.72" y="330.33" width="3.1" height="3.1"/>
<rect x="415.72" y="335.76" width="3.1" height="3.1"/>
<rect x="415.72" y="348.72" width="3.1" height="3.1"/>
<rect x="411.62" y="352.48" width="3.1" height="3.1"/>
<rect x="419.92" y="352.48" width="3.1" height="3.1"/>
<rect x="415.72" y="353.32" width="3.1" height="3.1"/>
<rect x="419.92" y="360.21" width="3.1" height="3.1"/>
<rect x="415.72" y="363.35" width="3.1" height="3.1"/>
<rect x="415.72" y="365.44" width="3.1" height="3.1"/>
<rect x="415.72" y="367.53" width="3.1" height="3.1"/>
<path d="M434.74 309.49L438.54 309.49L436.64 306.03Z"/>
<path d="M439.34 312.63L443.14 312.63L441.24 309.16Z"/>
<path d="M443.84 310.54L447.64 310.54L445.74 307.07Z"/>
<path d="M439.34 339.38L443.14 339.38L441.24 335.92Z"/>
<path d="M439.34 345.65L443.14 345.65L441.24 342.19Z"/>
<path d="M443.84 350.25L447.64 350.25L445.74 346.78Z"/>
<path d="M439.34 351.5L443.14 351.5L441.24 348.04Z"/>
<path d="M443.84 352.96L447.64 352.96L445.74 349.5Z"/>
<path d="M435.14 355.06L438.94 355.06L437.04 351.59Z"/>
<path d="M439.34 356.52L443.14 356.52L441.24 353.05Z"/>
<path d="M443.84 355.68L447.64 355.68L445.74 352.22Z"/>
<path d="M439.34 361.64L443.14 361.64L441.24 358.17Z"/>
<path d="M463.11 323.12L466.91 323.12L465.01 326.59Z"/>
<path d="M463.11 325.63L466.91 325.63L465.01 329.1Z"/>
<path d="M461.11 330.86L464.91 330.86L463.01 334.32Z"/>
<path d="M465.81 329.81L469.61 329.81L467.71 333.28Z"/>
<path d="M463.11 347.58L466.91 347.58L465.01 351.04Z"/>
<path d="M461.11 356.98L464.91 356.98L463.01 360.44Z"/>
<path d="M465.21 356.98L469.01 356.98L467.11 360.44Z"/>
<path d="M469.81 358.03L473.61 358.03L471.71 361.49Z"/>
<path d="M456.31 361.47L460.11 361.47L458.21 364.94Z"/>
<path d="M461.11 362.21L464.91 362.21L463.01 365.67Z"/>
<path d="M465.21 362.21L469.01 362.21L467.11 365.67Z"/>
<path d="M469.81 361.47L473.61 361.47L471.71 364.94Z"/>
</g>
<line x1="377.3" y1="280.8" x2="377.3" y2="386.3" stroke="#000" stroke-width="0.95"/>
<line x1="376.8" y1="385.8" x2="482.5" y2="385.8" stroke="#000" stroke-width="1"/>
<line x1="372.8" y1="385.8" x2="377.3" y2="385.8" stroke="#000" stroke-width="1"/>
<text x="372" y="388.65" font-size="7.9" font-weight="bold" text-anchor="end" fill="#000" stroke="#000" stroke-width="0.12">0</text>
<line x1="372.8" y1="333.55" x2="377.3" y2="333.55" stroke="#000" stroke-width="1"/>
<text x="372" y="336.4" font-size="7.9" font-weight="bold" text-anchor="end" fill="#000" stroke="#000" stroke-width="0.12">50</text>
<line x1="372.8" y1="281.3" x2="377.3" y2="281.3" stroke="#000" stroke-width="1"/>
<text x="372" y="284.15" font-size="7.9" font-weight="bold" text-anchor="end" fill="#000" stroke="#000" stroke-width="0.12">100</text>
<line x1="393" y1="385.8" x2="393" y2="389.8" stroke="#000" stroke-width="1"/>
<line x1="417.07" y1="385.8" x2="417.07" y2="389.8" stroke="#000" stroke-width="1"/>
<line x1="441.14" y1="385.8" x2="441.14" y2="389.8" stroke="#000" stroke-width="1"/>
<line x1="465.21" y1="385.8" x2="465.21" y2="389.8" stroke="#000" stroke-width="1"/>
<text x="353.1" y="333.55" font-size="8.5" font-weight="bold" text-anchor="middle" stroke="#000" stroke-width="0.1" transform="rotate(-90 353.1 333.55)">% of CD8<tspan dy="-3" font-size="6.5">+</tspan><tspan dy="3"> cells</tspan></text>
<text x="395.6" y="397" font-size="7.9" font-weight="bold" text-anchor="end" fill="#000" transform="rotate(-45 395.6 397)">PBMC alone</text>
<text x="419.67" y="397" font-size="7.9" font-weight="bold" text-anchor="end" fill="#000" transform="rotate(-45 419.67 397)">ctrl</text>
<text x="443.74" y="397" font-size="7.9" font-weight="bold" text-anchor="end" fill="#000" transform="rotate(-45 443.74 397)">durva</text>
<text x="467.81" y="397" font-size="7.9" font-weight="bold" text-anchor="end" fill="#000" transform="rotate(-45 467.81 397)">DMSO</text>
<path d="M404.97 412.8V418.4H477.31V412.8" stroke="#000" stroke-width="1.3" fill="none"/>
<text x="441.14" y="431.35" font-size="10" font-weight="normal" text-anchor="middle" fill="#111" stroke="#111" stroke-width="0.15">PBMC in co-culture</text>
<path d="M393.2 305.6V299.8H415.27V305.6" stroke="#000" stroke-width="1.1" fill="none"/>
<text x="404.79" y="299.35" font-size="9.4" font-weight="bold" text-anchor="middle" fill="#000" class="st" stroke="#000" stroke-width="0.6" letter-spacing="1.2">****</text>
<path d="M417.67 288.5V282.9H441.64V288.5" stroke="#000" stroke-width="1.1" fill="none"/>
<text x="430.2" y="282.45" font-size="9.4" font-weight="bold" text-anchor="middle" fill="#000" class="st" stroke="#000" stroke-width="0.6" letter-spacing="1.2">*</text>
<path d="M419.47 306.8V301H465.71V306.8" stroke="#000" stroke-width="1.1" fill="none"/>
<text x="442.79" y="297.6" font-size="8.3" font-weight="normal" text-anchor="middle" fill="#000" stroke="#000" stroke-width="0.15">ns</text>
<text x="595" y="265.2" font-size="10.1" font-weight="bold" text-anchor="middle" class="b" stroke="#000"><tspan fill="#a81c18" stroke="#a81c18">PD-1</tspan>-positive cells</text>
<rect x="552.3" y="379.95" width="14.6" height="5.85" fill="#fff" stroke="#000" stroke-width="1.35"/>
<line x1="559.6" y1="379.95" x2="559.6" y2="376.2" stroke="#000" stroke-width="0.6"/>
<line x1="556" y1="376.2" x2="563.2" y2="376.2" stroke="#000" stroke-width="0.6"/>
<rect x="576.37" y="363.67" width="14.6" height="22.13" fill="#4b53b0" stroke="#000" stroke-width="1.35"/>
<line x1="583.67" y1="363.67" x2="583.67" y2="357.93" stroke="#000" stroke-width="0.6"/>
<line x1="580.07" y1="357.93" x2="587.27" y2="357.93" stroke="#000" stroke-width="0.6"/>
<rect x="600.44" y="342.06" width="14.6" height="43.74" fill="#2eb135" stroke="#000" stroke-width="1.35"/>
<line x1="607.74" y1="342.06" x2="607.74" y2="335.06" stroke="#000" stroke-width="0.6"/>
<line x1="604.14" y1="335.06" x2="611.34" y2="335.06" stroke="#000" stroke-width="0.6"/>
<rect x="624.51" y="366.9" width="14.6" height="18.9" fill="#616161" stroke="#000" stroke-width="1.35"/>
<line x1="631.81" y1="366.9" x2="631.81" y2="362.31" stroke="#000" stroke-width="0.6"/>
<line x1="628.21" y1="362.31" x2="635.41" y2="362.31" stroke="#000" stroke-width="0.6"/>
<g fill="#000">
<circle cx="559.7" cy="365.86" r="1.5"/>
<circle cx="560.3" cy="373.27" r="1.5"/>
<circle cx="557.8" cy="375.15" r="1.5"/>
<circle cx="552.5" cy="381.62" r="1.5"/>
<circle cx="554.5" cy="383.19" r="1.5"/>
<circle cx="556.5" cy="381.1" r="1.5"/>
<circle cx="558.5" cy="382.67" r="1.5"/>
<circle cx="560.5" cy="381.1" r="1.5"/>
<circle cx="562.5" cy="383.19" r="1.5"/>
<circle cx="564.5" cy="381.62" r="1.5"/>
<circle cx="566.5" cy="382.67" r="1.5"/>
<circle cx="555.5" cy="384.76" r="1.5"/>
<circle cx="561.5" cy="384.55" r="1.5"/>
<rect x="581.72" y="347.92" width="3.1" height="3.1"/>
<rect x="577.82" y="351.36" width="3.1" height="3.1"/>
<rect x="581.72" y="351.89" width="3.1" height="3.1"/>
<rect x="577.82" y="360.86" width="3.1" height="3.1"/>
<rect x="581.72" y="359.82" width="3.1" height="3.1"/>
<rect x="586.02" y="360.86" width="3.1" height="3.1"/>
<rect x="581.72" y="366.29" width="3.1" height="3.1"/>
<rect x="586.02" y="367.13" width="3.1" height="3.1"/>
<rect x="577.82" y="367.75" width="3.1" height="3.1"/>
<rect x="581.72" y="371.72" width="3.1" height="3.1"/>
<rect x="581.72" y="377.57" width="3.1" height="3.1"/>
<path d="M605.54 318.23L609.34 318.23L607.44 314.77Z"/>
<path d="M605.54 326.9L609.34 326.9L607.44 323.43Z"/>
<path d="M605.54 337.34L609.34 337.34L607.44 333.87Z"/>
<path d="M603.54 340.68L607.34 340.68L605.44 337.21Z"/>
<path d="M607.84 341.31L611.64 341.31L609.74 337.84Z"/>
<path d="M603.54 345.27L607.34 345.27L605.44 341.81Z"/>
<path d="M607.84 345.27L611.64 345.27L609.74 341.81Z"/>
<path d="M603.54 347.26L607.34 347.26L605.44 343.79Z"/>
<path d="M607.84 347.26L611.64 347.26L609.74 343.79Z"/>
<path d="M603.54 352.58L607.34 352.58L605.44 349.12Z"/>
<path d="M607.84 351.75L611.64 351.75L609.74 348.28Z"/>
<path d="M603.54 355.09L607.34 355.09L605.44 351.62Z"/>
<path d="M607.84 354.56L611.64 354.56L609.74 351.1Z"/>
<path d="M633.71 355.75L637.51 355.75L635.61 359.22Z"/>
<path d="M629.41 356.69L633.21 356.69L631.31 360.16Z"/>
<path d="M622.61 360.35L626.41 360.35L624.51 363.81Z"/>
<path d="M625.51 361.29L629.31 361.29L627.41 364.75Z"/>
<path d="M629.41 361.7L633.21 361.7L631.31 365.17Z"/>
<path d="M633.31 361.7L637.11 361.7L635.21 365.17Z"/>
<path d="M636.91 361.18L640.71 361.18L638.81 364.65Z"/>
<path d="M629.41 366.19L633.21 366.19L631.31 369.66Z"/>
<path d="M629.41 371.62L633.21 371.62L631.31 375.09Z"/>
<path d="M627.51 377.99L631.31 377.99L629.41 381.46Z"/>
<path d="M631.41 377.47L635.21 377.47L633.31 380.93Z"/>
</g>
<line x1="543.65" y1="280.9" x2="543.65" y2="386.3" stroke="#000" stroke-width="0.95"/>
<line x1="543.15" y1="385.8" x2="648.85" y2="385.8" stroke="#000" stroke-width="1"/>
<line x1="539.15" y1="385.8" x2="543.65" y2="385.8" stroke="#000" stroke-width="1"/>
<text x="538.35" y="388.65" font-size="7.9" font-weight="bold" text-anchor="end" fill="#000" stroke="#000" stroke-width="0.12">0</text>
<line x1="539.15" y1="333.6" x2="543.65" y2="333.6" stroke="#000" stroke-width="1"/>
<text x="538.35" y="336.45" font-size="7.9" font-weight="bold" text-anchor="end" fill="#000" stroke="#000" stroke-width="0.12">50</text>
<line x1="539.15" y1="281.4" x2="543.65" y2="281.4" stroke="#000" stroke-width="1"/>
<text x="538.35" y="284.25" font-size="7.9" font-weight="bold" text-anchor="end" fill="#000" stroke="#000" stroke-width="0.12">100</text>
<line x1="559.6" y1="385.8" x2="559.6" y2="389.8" stroke="#000" stroke-width="1"/>
<line x1="583.67" y1="385.8" x2="583.67" y2="389.8" stroke="#000" stroke-width="1"/>
<line x1="607.74" y1="385.8" x2="607.74" y2="389.8" stroke="#000" stroke-width="1"/>
<line x1="631.81" y1="385.8" x2="631.81" y2="389.8" stroke="#000" stroke-width="1"/>
<text x="519.45" y="333.6" font-size="8.5" font-weight="bold" text-anchor="middle" stroke="#000" stroke-width="0.1" transform="rotate(-90 519.45 333.6)">% of CD8<tspan dy="-3" font-size="6.5">+</tspan><tspan dy="3"> cells</tspan></text>
<text x="562.2" y="397" font-size="7.9" font-weight="bold" text-anchor="end" fill="#000" transform="rotate(-45 562.2 397)">PBMC alone</text>
<text x="586.27" y="397" font-size="7.9" font-weight="bold" text-anchor="end" fill="#000" transform="rotate(-45 586.27 397)">ctrl</text>
<text x="610.34" y="397" font-size="7.9" font-weight="bold" text-anchor="end" fill="#000" transform="rotate(-45 610.34 397)">durva</text>
<text x="634.41" y="397" font-size="7.9" font-weight="bold" text-anchor="end" fill="#000" transform="rotate(-45 634.41 397)">DMSO</text>
<path d="M571.57 412.8V418.4H643.91V412.8" stroke="#000" stroke-width="1.3" fill="none"/>
<text x="607.74" y="431.35" font-size="10" font-weight="normal" text-anchor="middle" fill="#111" stroke="#111" stroke-width="0.15">PBMC in co-culture</text>
<path d="M559.3 316.5V310.5H581.37V316.5" stroke="#2fae2f" stroke-width="1.1" fill="none"/>
<text x="570.88" y="310.05" font-size="9.4" font-weight="bold" text-anchor="middle" fill="#2fae2f" class="st" stroke="#2fae2f" stroke-width="0.6" letter-spacing="1.2">***</text>
<path d="M585.27 296.3V290.3H607.74V296.3" stroke="#2fae2f" stroke-width="1.1" fill="none"/>
<text x="597.05" y="289.85" font-size="9.4" font-weight="bold" text-anchor="middle" fill="#2fae2f" class="st" stroke="#2fae2f" stroke-width="0.6" letter-spacing="1.2">****</text>
<path d="M585.57 316.5V310.5H630.91V316.5" stroke="#2fae2f" stroke-width="1.1" fill="none"/>
<text x="608.44" y="307.1" font-size="8.3" font-weight="normal" text-anchor="middle" fill="#2fae2f" stroke="#2fae2f" stroke-width="0.15">ns</text>
</svg>
</body></html>
